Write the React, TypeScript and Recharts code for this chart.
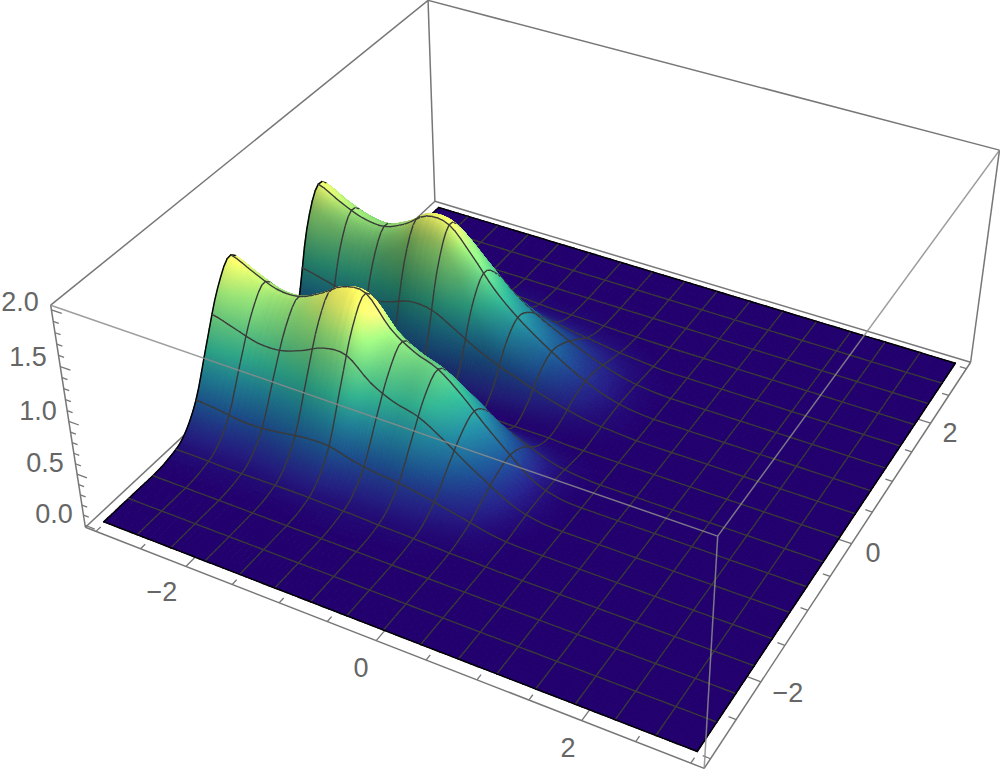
import React from "react";
import { ScatterChart, Scatter, XAxis, YAxis } from "recharts";

const W = 1000;
const H = 771;

// ---- values ----
const xStations = [-3, -2.75, -2.5, -2.25, -2, -1.75, -1.5, -1.25, -1, -0.75, -0.5, -0.25, 0, 0.25, 0.5, 0.75, 1, 1.25];
const yStations = [-2.25, -2, -1.75, -1.5, -1.25, -1, -0.75, -0.5, -0.25, 0, 0.25, 0.5, 0.75, 1, 1.25, 1.5, 1.75, 2, 2.25];
const heightRows = [
  [0, .02, .09, .32, .74, 1.14, 1.33, 1.00, .33, .03, .32, .97, 1.29, 1.11, .72, .31, .09, .02, 0],
  [0, .02, .09, .30, .69, 1.06, 1.23, .92, .31, .02, .30, .89, 1.18, 1.01, .66, .28, .08, .02, 0],
  [0, .02, .08, .27, .64, .98, 1.14, .86, .29, .02, .27, .82, 1.09, .94, .61, .26, .08, .02, 0],
  [0, .02, .08, .27, .64, .98, 1.14, .86, .29, .02, .27, .80, 1.07, .92, .60, .26, .07, .02, 0],
  [0, .02, .09, .30, .69, 1.07, 1.24, .93, .31, .02, .29, .87, 1.16, 1.00, .65, .28, .08, .02, 0],
  [0, .02, .10, .33, .77, 1.18, 1.37, 1.03, .34, .03, .33, .98, 1.30, 1.12, .73, .31, .09, .02, 0],
  [0, .02, .10, .33, .77, 1.19, 1.38, 1.04, .35, .03, .32, .96, 1.28, 1.10, .72, .31, .09, .02, 0],
  [0, .02, .08, .27, .63, .96, 1.12, .84, .28, .02, .26, .79, 1.05, .90, .59, .25, .07, .02, 0],
  [0, .02, .07, .23, .54, .83, .97, .73, .24, .02, .20, .59, .78, .67, .44, .19, .05, .01, 0],
  [0, .01, .06, .21, .49, .76, .88, .66, .22, .02, .15, .44, .58, .50, .32, .14, .04, .01, 0],
  [0, .01, .05, .17, .39, .60, .70, .53, .18, .01, .11, .32, .42, .36, .24, .10, .03, .01, 0],
  [0, .01, .03, .12, .27, .41, .48, .36, .12, .01, .07, .21, .28, .24, .16, .07, .02, 0, 0],
  [0, 0, .02, .07, .16, .24, .28, .21, .07, .01, .04, .12, .16, .14, .09, .04, .01, 0, 0],
  [0, 0, .01, .02, .06, .09, .10, .08, .03, 0, .02, .05, .07, .06, .04, .02, 0, 0, 0],
  [0, 0, 0, 0, .01, .02, .02, .02, .01, 0, .01, .02, .02, .02, .01, 0, 0, 0, 0],
  [0, 0, 0, 0, 0, 0, 0, 0, 0, 0, 0, 0, 0, 0, 0, 0, 0, 0, 0],
  [0, 0, 0, 0, 0, 0, 0, 0, 0, 0, 0, 0, 0, 0, 0, 0, 0, 0, 0],
  [0, 0, 0, 0, 0, 0, 0, 0, 0, 0, 0, 0, 0, 0, 0, 0, 0, 0, 0],
];
const xyMajorTicks = [-2, 0, 2];
const xyMinorTicks = [-3, -2.5, -1.5, -1, -0.5, 0.5, 1, 1.5, 2.5, 3];
const zMajorTicks = [0, 0.5, 1, 1.5, 2];
const zMinorTicks = [0.1, 0.2, 0.3, 0.4, 0.6, 0.7, 0.8, 0.9, 1.1, 1.2, 1.3, 1.4, 1.6, 1.7, 1.8, 1.9];
const zLabels = ["0.0", "0.5", "1.0", "1.5", "2.0"];
const xLabels = ["\u22122", "0", "2"];
const yLabels = ["\u22122", "0", "2"];

// ---- layout ----
const XY_RANGE = 3.12;
const Z_MIN = -0.02;
const Z_MAX = 2.04;
const zLabelPixels = [[54, 514], [45, 463], [38, 411], [28, 357], [20, 302]];
const xLabelPixels = [[162, 592], [361, 668], [568, 748]];
const yLabelPixels = [[788, 693], [873, 553], [950, 433]];
// pixel position of the eight corners of the box, used to fit the camera
const cameraFit: number[][] = [
  [0, 0, 0, 85, 527], [1, 0, 0, 704, 768], [1, 1, 0, 971, 362], [0, 1, 0, 435, 202],
  [0, 0, 1, 51, 305], [1, 0, 1, 718, 537], [1, 1, 1, 999, 150], [0, 1, 1, 428, 0],
];
const colorStops: number[][] = [
  [0, 34, 0, 110], [0.1, 36, 30, 130], [0.3, 28, 82, 142], [0.5, 32, 128, 150],
  [0.7, 48, 172, 140], [0.9, 98, 198, 125], [1.1, 152, 226, 118], [1.3, 236, 245, 105], [1.38, 252, 248, 100],
];

function solve(A: number[][], b: number[]) {
  const n = b.length;
  const M = A.map((r, i) => [...r, b[i]]);
  for (let c = 0; c < n; c++) {
    let p = c;
    for (let r = c + 1; r < n; r++) if (Math.abs(M[r][c]) > Math.abs(M[p][c])) p = r;
    [M[c], M[p]] = [M[p], M[c]];
    for (let r = 0; r < n; r++) {
      if (r === c) continue;
      const f = M[r][c] / M[c][c];
      for (let k = c; k <= n; k++) M[r][k] -= f * M[c][k];
    }
  }
  return M.map((r, i) => r[n] / r[i]);
}

function fitCamera() {
  const rows: number[][] = [];
  const rhs: number[] = [];
  cameraFit.forEach(([X, Y, Z, u0, v0]) => {
    const u = u0 / 1000;
    const v = v0 / 1000;
    rows.push([X, Y, Z, 1, 0, 0, 0, 0, -u * X, -u * Y, -u * Z]);
    rhs.push(u);
    rows.push([0, 0, 0, 0, X, Y, Z, 1, -v * X, -v * Y, -v * Z]);
    rhs.push(v);
  });
  const N = 11;
  const A = Array.from({ length: N }, (_, a) =>
    Array.from({ length: N }, (_, b) => rows.reduce((s, r) => s + r[a] * r[b], 0))
  );
  const B = Array.from({ length: N }, (_, a) => rows.reduce((s, r, i) => s + r[a] * rhs[i], 0));
  return solve(A, B);
}
const cam = fitCamera();

function project(x: number, y: number, z: number): [number, number] {
  const X = (x + XY_RANGE) / (2 * XY_RANGE);
  const Y = (y + XY_RANGE) / (2 * XY_RANGE);
  const Z = (z - Z_MIN) / (Z_MAX - Z_MIN);
  const w = cam[8] * X + cam[9] * Y + cam[10] * Z + 1;
  return [
    (1000 * (cam[0] * X + cam[1] * Y + cam[2] * Z + cam[3])) / w,
    (1000 * (cam[4] * X + cam[5] * Y + cam[6] * Z + cam[7])) / w,
  ];
}

function cr(a: number, b: number, c: number, d: number, t: number) {
  return 0.5 * (2 * b + (c - a) * t + (2 * a - 5 * b + 4 * c - d) * t * t + (3 * b - a - 3 * c + d) * t * t * t);
}
function rowAt(i: number, j: number) {
  if (i < 0) i = 0;
  if (i >= xStations.length || j < 0 || j >= yStations.length) return 0;
  return heightRows[i][j];
}
function height(x: number, y: number) {
  const fi = (x - xStations[0]) / 0.25;
  const fj = (y - yStations[0]) / 0.25;
  if (fi >= xStations.length - 1 || fj <= -1 || fj >= yStations.length) return 0;
  const i = Math.floor(fi);
  const j = Math.floor(fj);
  const t = fi - i;
  const s = fj - j;
  const col = [0, 1, 2, 3].map((k) => {
    const ii = i - 1 + k;
    return cr(rowAt(ii, j - 1), rowAt(ii, j), rowAt(ii, j + 1), rowAt(ii, j + 2), s);
  });
  return Math.max(0, cr(col[0], col[1], col[2], col[3], t));
}

function surfaceColor(z: number, dzdx: number, dzdy: number, y: number) {
  let rgb = colorStops[colorStops.length - 1].slice(1);
  for (let k = 0; k < colorStops.length - 1; k++) {
    const a = colorStops[k];
    const b = colorStops[k + 1];
    if (z <= b[0]) {
      const t = Math.max(0, (z - a[0]) / (b[0] - a[0]));
      rgb = [1, 2, 3].map((c) => a[c] + (b[c] - a[c]) * t);
      break;
    }
  }
  let shade = Math.max(0.62, Math.min(1.3, 1 - 0.18 * dzdx - 0.05 * Math.abs(dzdy)));
  if (y > 0 && dzdy > 0) shade *= 1 - 0.2 * Math.min(1, dzdy / 1.5);
  return `rgb(${rgb.map((c) => Math.min(255, Math.round(c * shade))).join(",")})`;
}

const CELLS = 96;
const STEP = 6 / CELLS;
const MESH = 6;
type Cell = { px: number; py: number; strips: { d: string; fill: string }[]; lines: { d: string; black: boolean }[] };

function buildCells() {
  const out: Cell[] = [];
  const nodes: [number, number, number][][] = [];
  for (let i = 0; i <= CELLS; i++) {
    nodes.push([]);
    for (let j = 0; j <= CELLS; j++) {
      const x = -3 + i * STEP;
      const y = -3 + j * STEP;
      const h = height(x, y);
      const p = project(x, y, h);
      nodes[i].push([p[0], p[1], h]);
    }
  }
  for (let j = CELLS - 1; j >= 0; j--) {
    for (let i = 0; i < CELLS; i++) {
      const x0 = -3 + i * STEP;
      const y0 = -3 + j * STEP;
      const x = x0 + 0.5 * STEP;
      const y = y0 + 0.5 * STEP;
      const z = height(x, y);
      const [cx, cy] = project(x, y, z);
      const a = nodes[i][j];
      const b = nodes[i + 1][j];
      const c = nodes[i + 1][j + 1];
      const d = nodes[i][j + 1];
      const rel = (p: number[]) => `${(p[0] - cx).toFixed(2)},${(p[1] - cy).toFixed(2)}`;
      const rangeX = Math.max(Math.abs(b[2] - a[2]), Math.abs(c[2] - d[2]));
      const rangeY = Math.max(Math.abs(d[2] - a[2]), Math.abs(c[2] - b[2]));
      const ny = Math.min(8, Math.max(1, Math.ceil(rangeY / 0.012)));
      const nx = Math.min(4, Math.max(1, Math.ceil(rangeX / 0.012)));
      const strips: { d: string; fill: string }[] = [];
      for (let k = ny - 1; k >= 0; k--) {
        const s0 = y0 + (k * STEP) / ny;
        const s1 = y0 + ((k + 1) * STEP) / ny;
        const sm = (s0 + s1) / 2;
        for (let m = 0; m < nx; m++) {
          const r0 = x0 + (m * STEP) / nx;
          const r1 = x0 + ((m + 1) * STEP) / nx;
          const rm = (r0 + r1) / 2;
          const zm = height(rm, sm);
          const dzdx = (height(rm + STEP, sm) - height(rm - STEP, sm)) / (2 * STEP);
          const dzdy = (height(rm, sm + STEP) - height(rm, sm - STEP)) / (2 * STEP);
          const q = [
            project(r0, s0, height(r0, s0)),
            project(r1, s0, height(r1, s0)),
            project(r1, s1, height(r1, s1)),
            project(r0, s1, height(r0, s1)),
          ];
          strips.push({ d: `M${q.map(rel).join("L")}Z`, fill: surfaceColor(zm, dzdx, dzdy, sm) });
        }
      }
      const lines: { d: string; black: boolean }[] = [];
      if (i % MESH === 0) lines.push({ d: `M${rel(a)}L${rel(d)}`, black: i === 0 });
      if ((j + 1) % MESH === 0) lines.push({ d: `M${rel(d)}L${rel(c)}`, black: j + 1 === CELLS });
      if (i === CELLS - 1) lines.push({ d: `M${rel(b)}L${rel(c)}`, black: true });
      if (j === 0) lines.push({ d: `M${rel(a)}L${rel(b)}`, black: true });
      out.push({ px: cx, py: cy, strips, lines });
    }
  }
  return out;
}
const cells = buildCells();

const CellShape = (props: any) => {
  const { cx, cy, payload } = props;
  return (
    <g transform={`translate(${cx},${cy})`}>
      {payload.strips.map((s: any, k: number) => (
        <path key={k} d={s.d} fill={s.fill} stroke={s.fill} strokeWidth={1} />
      ))}
      {payload.lines.map((l: any, k: number) => (
        <path key={"l" + k} d={l.d} fill="none" stroke={l.black ? "#000" : "#3a3a3a"} strokeWidth={l.black ? 1.5 : 1.4} strokeLinecap="round" />
      ))}
    </g>
  );
};

const R = XY_RANGE;
function seg(a: [number, number], b: [number, number]) {
  return { px: a[0], py: a[1], dx: b[0] - a[0], dy: b[1] - a[1] };
}
const backEdges = [
  seg(project(-R, -R, Z_MIN), project(-R, R, Z_MIN)),
  seg(project(-R, R, Z_MIN), project(R, R, Z_MIN)),
  seg(project(-R, R, Z_MIN), project(-R, R, Z_MAX)),
  seg(project(-R, R, Z_MAX), project(R, R, Z_MAX)),
  seg(project(-R, R, Z_MAX), project(-R, -R, Z_MAX)),
  seg(project(-R, -R, Z_MIN), project(-R, -R, Z_MAX)),
  seg(project(R, R, Z_MIN), project(R, R, Z_MAX)),
  seg(project(-R, -R, Z_MIN), project(R, -R, Z_MIN)),
  seg(project(R, -R, Z_MIN), project(R, R, Z_MIN)),
];
const frontEdges = [
  seg(project(-R, -R, Z_MAX), project(R, -R, Z_MAX)),
  seg(project(R, -R, Z_MAX), project(R, R, Z_MAX)),
  seg(project(R, -R, Z_MIN), project(R, -R, Z_MAX)),
];
const XY_LONG = 0.14;
const XY_SHORT = 0.07;
const Z_LEN_LONG = 0.11;
const Z_LEN_SHORT = 0.06;
const tickSegs = [
  ...xyMajorTicks.map((v) => seg(project(v, -R, Z_MIN), project(v, -R + XY_LONG, Z_MIN))),
  ...xyMinorTicks.map((v) => seg(project(v, -R, Z_MIN), project(v, -R + XY_SHORT, Z_MIN))),
  ...xyMajorTicks.map((v) => seg(project(R, v, Z_MIN), project(R - XY_LONG, v, Z_MIN))),
  ...xyMinorTicks.map((v) => seg(project(R, v, Z_MIN), project(R - XY_SHORT, v, Z_MIN))),
  ...zMajorTicks.map((v) => seg(project(-R, -R, v), project(-R + Z_LEN_LONG, -R, v))),
  ...zMinorTicks.map((v) => seg(project(-R, -R, v), project(-R + Z_LEN_SHORT, -R, v))),
];
const labelPoints = [
  ...zLabels.map((t, i) => ({ px: zLabelPixels[i][0], py: zLabelPixels[i][1], text: t })),
  ...xLabels.map((t, i) => ({ px: xLabelPixels[i][0], py: xLabelPixels[i][1], text: t })),
  ...yLabels.map((t, i) => ({ px: yLabelPixels[i][0], py: yLabelPixels[i][1], text: t })),
];

const segShape = (color: string, width: number) => (props: any) => {
  const { cx, cy, payload } = props;
  return <line x1={cx} y1={cy} x2={cx + payload.dx} y2={cy + payload.dy} stroke={color} strokeWidth={width} />;
};
const BackShape = segShape("#777", 1.5);
const FrontShape = segShape("rgba(140,140,140,0.85)", 1.5);
const TickShape = segShape("#777", 1.3);
const LabelShape = (props: any) => {
  const { cx, cy, payload } = props;
  return (
    <text x={cx} y={cy} textAnchor="middle" dominantBaseline="central" fontFamily="'Liberation Sans', Arial, sans-serif" fontSize={27} fill="#666">
      {payload.text}
    </text>
  );
};

export default function App() {
  return (
    <div style={{ position: "absolute", left: 0, top: 0, width: W, height: H, background: "#fff" }}>
      <ScatterChart width={W} height={H} margin={{ top: 0, right: 0, bottom: 0, left: 0 }}>
        <XAxis type="number" dataKey="px" domain={[0, W]} hide />
        <YAxis type="number" dataKey="py" domain={[0, H]} reversed hide />
        <Scatter data={backEdges} shape={BackShape} isAnimationActive={false} />
        <Scatter data={tickSegs} shape={TickShape} isAnimationActive={false} />
        <Scatter data={cells} shape={CellShape} isAnimationActive={false} />
        <Scatter data={frontEdges} shape={FrontShape} isAnimationActive={false} />
        <Scatter data={labelPoints} shape={LabelShape} isAnimationActive={false} />
      </ScatterChart>
    </div>
  );
}
